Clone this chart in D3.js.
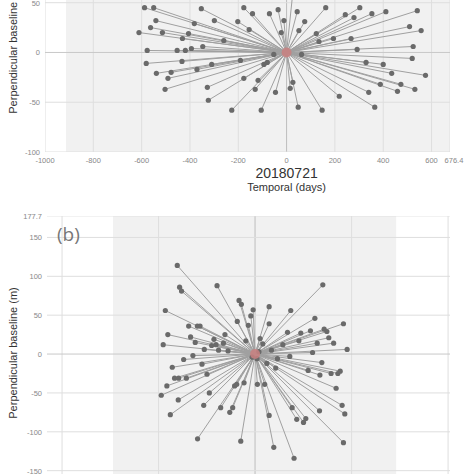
<!DOCTYPE html>
<html><head><meta charset="utf-8">
<script src="https://cdn.jsdelivr.net/npm/d3@7"></script>
<style>body{margin:0;background:#fff}svg{display:block}</style>
</head><body><svg id="c" width="474" height="474"></svg>
<script>
// Panel (a): [temporal days, perpendicular baseline m]
const pointsA = [[-588,45],[-550,45],[-353,44],[-177,45],[-35,43],[162,45],[303,45],[-141,39],[-71,39],[44,41],[243,38],[279,35],[353,39],[411,41],[541,42],
[-541,32],[-382,29],[-299,32],[-202,31],[-11,32],[75,31],[-611,20],[-563,25],[-514,20],[-406,19],[-155,23],[-22,20],[51,22],[123,19],[509,26],[557,22],
[-431,14],[-260,12],[134,11],[194,14],[267,14],[-577,2],[-453,2],[-419,2],[-394,4],[-347,6],[524,6],[292,3],[-53,-2],[62,-2],[520,-6],
[-581,-11],[-433,-9],[-310,-12],[-191,-8],[329,-10],[400,-12],[-539,-21],[-478,-20],[-491,-26],[-371,-17],[-94,-12],[-80,-10],[435,-21],[575,-23],
[-503,-37],[-328,-35],[-177,-26],[-130,-37],[-118,-28],[26,-30],[15,-36],[473,-32],[388,-32],[340,-40],[459,-39],[531,-37],[-46,-40],[218,-44],
[-324,-48],[-227,-58],[-105,-58],[48,-55],[147,-58],[365,-55],[30,70]];
// Panel (b)
const pointsB = [[-403,114],[-391,86],[-381,81],[-197,88],[351,89],[-465,56],[-83,69],[-71,64],[-10,57],[73,61],[185,56],[-22,49],[-92,42],[-35,37],[73,39],
[310,46],[458,39],[-344,36],[-299,36],[-285,36],[-452,25],[-334,22],[-310,15],[-213,19],[-225,11],[-202,12],[-164,14],[-156,25],[-476,12],[-263,6],
[-189,5],[-140,4],[-48,17],[26,20],[40,13],[85,5],[144,12],[168,28],[237,27],[227,17],[287,30],[358,32],[372,29],[322,14],[382,21],[407,14],[477,6],
[298,2],[180,-3],[116,-6],[-322,-2],[-370,-7],[-275,-13],[-429,-17],[-249,-26],[-417,-31],[-396,-31],[-356,-31],[-457,-41],[-486,-53],[-398,-59],
[-439,-78],[-237,-50],[-266,-66],[-178,-69],[-131,-75],[-116,-69],[-106,-41],[-95,-39],[-57,-37],[12,-39],[50,-39],[61,-12],[107,-18],[73,-79],
[97,-120],[202,-134],[-74,-112],[-298,-109],[192,-69],[216,-84],[251,-88],[263,-83],[334,-73],[275,-21],[336,-27],[346,-11],[394,-25],[429,-25],
[441,-22],[420,-44],[451,-66],[465,-77],[458,-114],[20,3],[-15,-4],[10,-6]];
const xTicksA = [-1000,-800,-600,-400,-200,0,200,400,600,676.4];
const yTicksA = [50,0,-50,-100];
const xGridB = [-1000,-500,0,500,1000];
const yTicksB = [177.7,150,100,50,0,-50,-100,-150];

const svg = d3.select("#c");
const font = "Liberation Sans, Arial, sans-serif";

function panel(o){
  const g = svg.append("g");
  const x = d3.scaleLinear().domain(o.xd).range([o.l,o.r]);
  const y = d3.scaleLinear().domain(o.yd).range([o.b,o.t]);
  const id = "clip"+o.name;
  svg.append("clipPath").attr("id",id).append("rect").attr("x",o.l).attr("y",o.t).attr("width",o.r-o.l).attr("height",o.b-o.t);
  const p = g.append("g").attr("clip-path",`url(#${id})`);
  p.append("rect").attr("x",x(o.gray[0])).attr("y",o.t).attr("width",x(o.gray[1])-x(o.gray[0])).attr("height",o.b-o.t).attr("fill","#f1f1f1");
  p.selectAll(".vg").data(o.xg).join("line").attr("x1",d=>x(d)).attr("x2",d=>x(d)).attr("y1",o.t).attr("y2",o.b)
    .attr("stroke",d=>d===0?"#bdbdbd":"#dedede").attr("stroke-width",1);
  p.selectAll(".hg").data(o.yt).join("line").attr("x1",o.l).attr("x2",o.r).attr("y1",d=>y(d)).attr("y2",d=>y(d))
    .attr("stroke",d=>d===0?"#c8c8c8":"#dedede").attr("stroke-width",1);
  p.selectAll(".ln").data(o.pts).join("line").attr("x1",x(0)).attr("y1",y(0)).attr("x2",d=>x(d[0])).attr("y2",d=>y(d[1]))
    .attr("stroke","#a0a0a0").attr("stroke-width",1);
  p.selectAll(".pt").data(o.pts).join("circle").attr("cx",d=>x(d[0])).attr("cy",d=>y(d[1])).attr("r",2.6).attr("fill","#6a6a6a");
  p.append("circle").attr("cx",x(0)).attr("cy",y(0)).attr("r",5).attr("fill","#c98080").attr("opacity",0.85);
  g.selectAll(".yl").data(o.yt).join("text").attr("x",o.l-5).attr("y",d=>y(d)+3).attr("text-anchor","end")
    .attr("font-family",font).attr("font-size",7.5).attr("fill","#888").text(d=>d);
  g.append("text").attr("transform",`translate(${o.yl[0]},${o.yl[1]}) rotate(-90)`).attr("text-anchor","middle")
    .attr("font-family",font).attr("font-size",11).attr("fill","#333").text("Perpendicular baseline (m)");
  return {x,y,g};
}

const A = panel({name:"a",l:45,r:450,t:0,b:152,xd:[-1000,676.4],yd:[-100,52.7],gray:[-913,676.4],
  xg:xTicksA,yt:yTicksA,pts:pointsA,yl:[17,48]});
A.g.selectAll(".xl").data(xTicksA).join("text").attr("x",d=>A.x(d)+(d===676.4?4:0)).attr("y",163).attr("text-anchor","middle")
  .attr("font-family",font).attr("font-size",7.5).attr("fill","#888").text(d=>d);
A.g.append("text").attr("x",A.x(0)).attr("y",178).attr("text-anchor","middle").attr("font-family",font).attr("font-size",14).attr("fill","#333").text("20180721");
A.g.append("text").attr("x",A.x(0)).attr("y",191).attr("text-anchor","middle").attr("font-family",font).attr("font-size",11).attr("fill","#333").text("Temporal (days)");

const B = panel({name:"b",l:47,r:450,t:215.9,b:480,xd:[-1078,1010],yd:[-162,177.7],gray:[-736,731],
  xg:xGridB,yt:yTicksB,pts:pointsB,yl:[17,353]});
B.g.append("text").attr("x",57).attr("y",241).attr("font-family","Open Sans, sans-serif").attr("font-size",19).attr("fill","#777").text("(b)");
</script></body></html>
